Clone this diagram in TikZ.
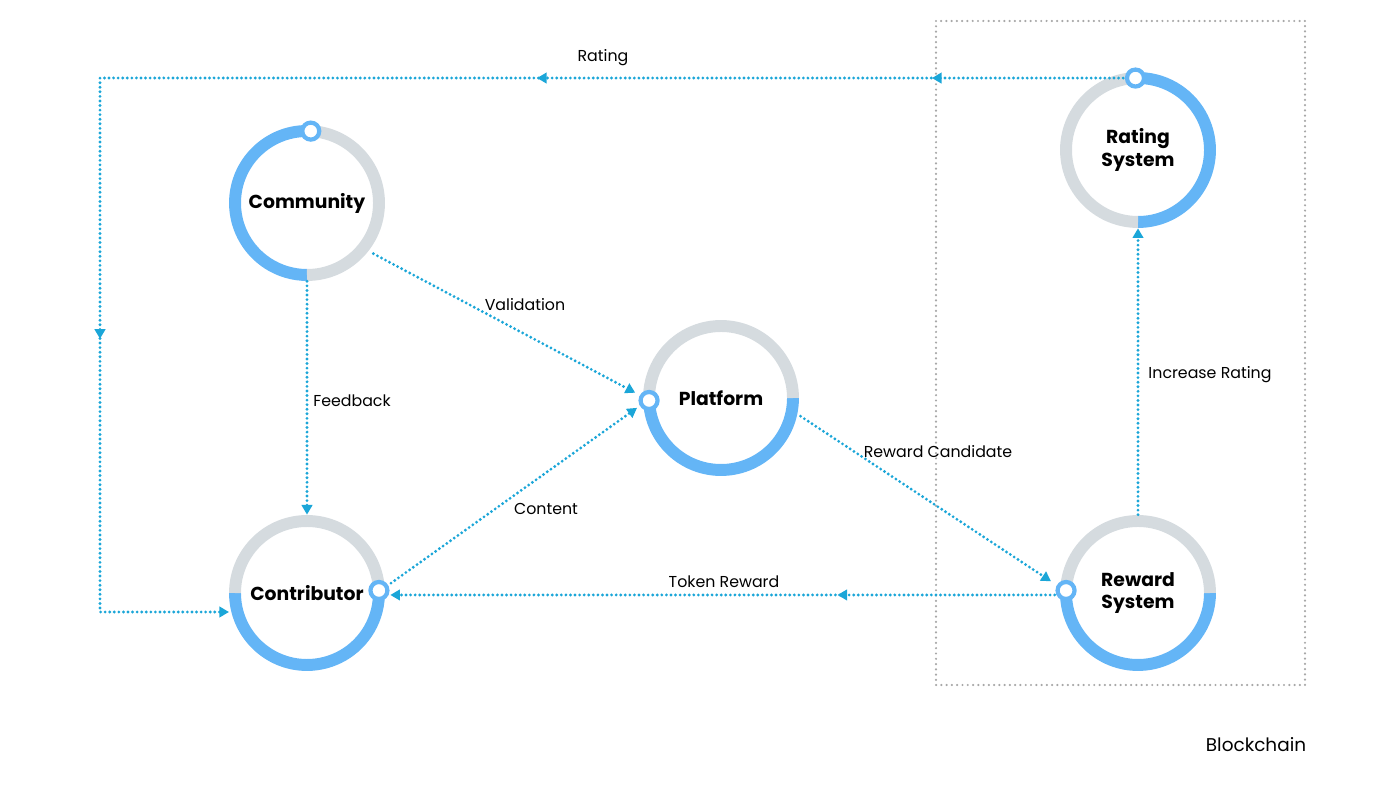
\documentclass[tikz,border=0pt]{standalone}
\usepackage{fontspec}
\setmainfont{Poppins}
\usetikzlibrary{arrows.meta,positioning,calc,decorations.markings}
\definecolor{ringblue}{HTML}{64B5F6}
\definecolor{ringgrey}{HTML}{D5DBDF}
\definecolor{flow}{HTML}{1BA6D8}
\definecolor{chain}{HTML}{A8A8A8}

\begin{document}
\begin{tikzpicture}[
  x=0.02cm,y=0.02cm,
  hub/.style={circle,minimum size=3.12cm,inner sep=0pt,align=center,font=\fontsize{10.7}{13}\selectfont\bfseries},
  knob/.style={circle,draw=ringblue,fill=white,line width=2.4pt,minimum size=0.34cm,inner sep=0pt},
  arcblue/.style={draw=ringblue,line width=6.8pt},
  arcgrey/.style={draw=ringgrey,line width=6.8pt},
  flowline/.style={draw=flow,line width=1.8pt,line cap=round,dash pattern=on 0pt off 2.6pt},
  arr/.style={flowline,-{Triangle[length=5.5pt,width=6pt]}},
  midtip/.style={postaction={decorate,decoration={markings,mark=at position #1 with {\arrow[flow]{Triangle[length=5.5pt,width=6pt]}}}}},
  lbl/.style={font=\fontsize{9}{11}\selectfont},
  chainbox/.style={draw=chain,line width=1.4pt,line cap=round,dash pattern=on 0pt off 3pt}]
  \useasboundingbox (0,0) rectangle (1400,788);

  % hubs
  \node[hub] (comm) at (307,585) {Community};
  \node[hub] (plat) at (721,390) {Platform};
  \node[hub] (contrib) at (307,195) {Contributor};
  \node[hub] (rew) at (1138,195) {Reward\\System};
  \node[hub] (rating) at (1138,638) {Rating\\System};

  % rings: blue part from a to b, grey for the rest
  \foreach \n/\a/\b in {comm/87/270,plat/182/360,contrib/180/362,rew/178/360,rating/270/452}{
    \draw[arcblue] (\n) ++(\a:1.44cm) arc (\a:\b:1.44cm);
    \draw[arcgrey] (\n) ++(\b:1.44cm) arc (\b:\a+360:1.44cm);
  }

  % blockchain area
  \draw[chainbox] (936,767) rectangle (1305,103);
  \node[font=\fontsize{10.5}{12}\selectfont] (chainlbl) at (1256,43) {Blockchain};

  % knobs
  \node[knob] (commknob) at ($(comm)+(87:1.44cm)$) {};
  \node[knob] (platknob) at ($(plat)+(182:1.44cm)$) {};
  \node[knob] (contribknob) at ($(contrib)+(2:1.44cm)$) {};
  \node[knob] (rewknob) at ($(rew)+(178:1.44cm)$) {};
  \node[knob] (ratknob) at ($(rating)+(92:1.44cm)$) {};

  % rating loop back to contributor
  \coordinate (ratcorner) at (100,710);
  \coordinate (loopcorner) at (100,176);
  \coordinate (contribin) at (229,176);
  \draw[arr,midtip=3.86cm,midtip=11.76cm,midtip=25.72cm,shorten <=1pt]
    (ratknob.west) -- (ratcorner) -- (loopcorner) -- (contribin);
  \node[lbl] (ratinglbl) at (603,730) {Rating};

  \draw[arr,shorten <=3pt,shorten >=3pt] (comm.-38) -- (platknob.150);
  \node[lbl] (validlbl) at (525,483) {Validation};

  \draw[arr] (comm.south) -- (contrib.north);
  \node[lbl] (feedlbl) at (352,387) {Feedback};

  \draw[arr,shorten <=2pt,shorten >=2pt] (contribknob.30) -- (platknob.210);
  \node[lbl] (contentlbl) at (546,279) {Content};

  \draw[arr,shorten <=2pt,shorten >=4pt] (plat.-12) -- (rewknob.150);
  \node[lbl] (candlbl) at (938,336) {Reward Candidate};

  \draw[arr,midtip=4.38cm,shorten <=1pt,shorten >=1pt] (rewknob.205) -- (contribknob.-25);
  \node[lbl] (tokenlbl) at (724,206) {Token Reward};

  \draw[arr] (rew.north) -- (rating.south);
  \node[lbl] (incrlbl) at (1210,413) {Increase Rating};
\end{tikzpicture}
\end{document}
